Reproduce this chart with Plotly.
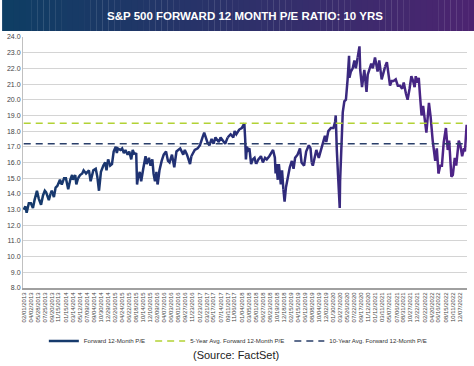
import plotly.graph_objects as go

dates = [
 "2013-02-01","2013-02-15","2013-02-25","2013-03-01","2013-03-15","2013-04-01","2013-04-18","2013-05-01","2013-05-21","2013-06-05",
 "2013-06-24","2013-07-10","2013-07-25","2013-08-05","2013-08-27","2013-09-10","2013-09-20","2013-10-08","2013-10-22","2013-11-05",
 "2013-11-27","2013-12-12","2013-12-31","2014-01-15","2014-02-03","2014-02-20","2014-03-07","2014-03-14","2014-04-02","2014-04-11",
 "2014-04-25","2014-05-12","2014-05-30","2014-06-10","2014-06-30","2014-07-24","2014-08-07","2014-08-29","2014-09-18","2014-10-01",
 "2014-10-15","2014-10-31","2014-11-20","2014-12-05","2014-12-16","2014-12-29","2015-01-15","2015-01-30","2015-02-13","2015-03-02",
 "2015-03-11","2015-03-20","2015-04-10","2015-04-24","2015-05-08","2015-05-21","2015-06-08","2015-06-22","2015-07-08","2015-07-20",
 "2015-08-05","2015-08-18","2015-08-25","2015-09-01","2015-09-16","2015-09-28","2015-10-15","2015-11-03","2015-11-13","2015-12-01",
 "2015-12-14","2015-12-29","2016-01-08","2016-01-20","2016-02-01","2016-02-11","2016-02-26","2016-03-15","2016-04-01","2016-04-20",
 "2016-05-06","2016-05-19","2016-06-08","2016-06-27","2016-07-15","2016-08-15","2016-09-09","2016-09-22","2016-10-10","2016-11-04",
 "2016-11-15","2016-12-13","2017-01-06","2017-01-25","2017-02-15","2017-03-01","2017-03-27","2017-04-13","2017-05-01","2017-05-17",
 "2017-06-02","2017-06-29","2017-07-14","2017-08-10","2017-08-21","2017-09-11","2017-10-05","2017-10-27","2017-11-07","2017-11-21",
 "2017-12-15","2018-01-05","2018-01-26","2018-02-02","2018-02-08","2018-02-16","2018-02-27","2018-03-09","2018-03-23","2018-04-06",
 "2018-04-20","2018-05-03","2018-05-22","2018-06-12","2018-06-28","2018-07-16","2018-07-30","2018-08-20","2018-09-20","2018-10-05",
 "2018-10-11","2018-10-17","2018-10-29","2018-11-07","2018-11-23","2018-12-03","2018-12-14","2018-12-24","2019-01-04","2019-01-18",
 "2019-02-05","2019-02-22","2019-03-08","2019-03-21","2019-04-10","2019-04-30","2019-05-13","2019-06-03","2019-06-20","2019-07-12",
 "2019-07-26","2019-08-05","2019-08-14","2019-08-23","2019-09-12","2019-10-02","2019-10-16","2019-11-01","2019-11-22","2019-12-03",
 "2019-12-20","2020-01-10","2020-01-31","2020-02-14","2020-02-19","2020-02-28","2020-03-09","2020-03-16","2020-03-23","2020-03-26",
 "2020-04-08","2020-04-17","2020-04-30","2020-05-13","2020-05-27","2020-06-08","2020-06-11","2020-06-23","2020-07-08","2020-07-22",
 "2020-08-03","2020-08-18","2020-09-02","2020-09-08","2020-09-23","2020-10-12","2020-10-30","2020-11-09","2020-11-24","2020-12-08",
 "2020-12-21","2021-01-08","2021-01-29","2021-02-12","2021-03-04","2021-03-18","2021-04-01","2021-04-16","2021-05-12","2021-05-26",
 "2021-06-10","2021-06-28","2021-07-15","2021-08-02","2021-08-20","2021-09-02","2021-09-20","2021-10-04","2021-10-20","2021-11-04",
 "2021-11-18","2021-12-01","2021-12-10","2021-12-22","2022-01-04","2022-01-14","2022-01-27","2022-02-09","2022-02-24","2022-03-08",
 "2022-03-29","2022-04-12","2022-04-29","2022-05-12","2022-05-20","2022-06-02","2022-06-16","2022-06-30","2022-07-14","2022-07-29",
 "2022-08-16","2022-08-31","2022-09-12","2022-09-30","2022-10-12","2022-10-28","2022-11-09","2022-11-30","2022-12-13","2022-12-28",
 "2023-01-12","2023-01-20","2023-02-03"]

pe = [
 13.0,13.2,12.8,13.0,13.4,13.4,13.1,13.6,14.2,13.7,
 13.3,13.9,14.2,14.1,13.6,14.0,14.2,13.8,14.4,14.5,
 14.9,14.6,15.0,15.0,14.3,14.9,15.2,14.9,15.2,14.6,
 15.0,15.2,15.3,15.5,15.3,15.5,14.8,15.5,15.6,15.1,
 14.2,15.4,15.8,16.0,15.5,16.2,15.8,15.9,16.7,17.0,
 16.6,16.9,16.8,16.9,16.6,16.8,16.5,16.7,16.2,16.8,
 16.5,16.6,14.6,15.0,15.4,14.8,15.6,16.4,15.9,16.3,
 15.8,16.2,15.3,14.8,15.4,14.6,15.5,16.1,16.5,16.7,
 16.1,16.0,16.5,15.7,16.7,16.9,16.5,16.8,16.5,15.9,
 16.4,16.8,16.9,17.1,17.6,17.9,17.3,17.1,17.5,17.2,
 17.6,17.3,17.6,17.3,17.2,17.6,17.8,17.6,18.0,17.8,
 18.1,18.2,18.5,17.5,16.2,17.0,16.8,16.9,15.9,16.2,
 16.3,15.9,16.2,16.4,16.0,16.3,16.2,16.4,16.8,16.3,
 15.3,15.9,14.9,15.9,14.6,15.5,14.3,13.5,14.4,15.0,
 15.7,16.1,15.6,16.3,16.5,16.9,16.0,15.8,16.7,17.1,
 16.9,16.0,15.8,16.1,16.8,16.3,16.7,17.1,17.7,17.3,
 18.0,18.2,18.2,18.6,19.0,16.8,15.2,14.1,13.1,14.8,
 17.2,19.2,19.9,20.0,21.3,22.8,21.4,21.8,22.0,22.5,
 22.0,22.7,23.4,21.9,20.8,21.9,20.5,21.6,22.0,22.3,
 22.0,22.7,21.8,22.5,21.3,21.7,22.1,22.4,20.9,21.2,
 21.2,21.3,20.9,20.9,20.7,21.1,20.4,20.0,20.7,21.5,
 21.2,20.8,21.5,21.1,21.4,20.3,19.0,19.6,18.4,17.9,
 19.8,18.9,17.4,16.4,16.1,16.9,15.3,15.8,15.8,17.3,
 18.2,16.8,17.4,15.1,15.2,16.3,15.8,17.4,17.1,16.4,
 16.9,16.7,18.4]

avg5 = 18.5
avg10 = 17.2

tick_dates = [
 "02/01/2013","04/02/2013","05/28/2013","07/25/2013","09/20/2013","11/15/2013",
 "01/15/2014","03/14/2014","05/12/2014","07/09/2014","09/04/2014","10/30/2014","12/29/2014",
 "02/26/2015","04/24/2015","06/22/2015","08/18/2015","10/14/2015","12/10/2015",
 "02/09/2016","04/07/2016","06/03/2016","08/01/2016","09/27/2016","11/23/2016",
 "01/23/2017","03/21/2017","05/17/2017","07/14/2017","09/11/2017","11/06/2017",
 "01/04/2018","03/05/2018","05/01/2018","06/27/2018","08/23/2018","10/19/2018","12/18/2018",
 "02/15/2019","04/15/2019","06/12/2019","08/08/2019","10/04/2019","12/02/2019",
 "01/30/2020","03/27/2020","05/26/2020","07/22/2020","09/17/2020","11/12/2020",
 "01/12/2021","03/11/2021","05/07/2021","07/06/2021","08/31/2021","10/27/2021","12/22/2021",
 "02/22/2022","04/20/2022","06/16/2022","08/15/2022","10/11/2022","12/07/2022"]

tick_vals = [f"{t[6:10]}-{t[0:2]}-{t[3:5]}" for t in tick_dates]

def lerp(c1, c2, t):
    return tuple(round(a + (b - a) * t) for a, b in zip(c1, c2))

fig = go.Figure()

# gradient line: navy -> purple
c_start = (22, 58, 108)
c_mid = (40, 45, 120)
c_end = (78, 36, 135)
nseg = 16
n = len(pe)
for s in range(nseg):
    i0 = s * (n - 1) // nseg
    i1 = (s + 1) * (n - 1) // nseg
    t = s / (nseg - 1)
    col = lerp(c_start, c_mid, t * 2) if t < 0.5 else lerp(c_mid, c_end, (t - 0.5) * 2)
    fig.add_trace(go.Scatter(
        x=dates[i0:i1 + 1], y=pe[i0:i1 + 1], mode="lines",
        line=dict(color="rgb(%d,%d,%d)" % col, width=2.5),
        name="Forward 12-Month P/E", legendgroup="fwd",
        showlegend=(s == 0), hoverinfo="skip"))

fig.add_trace(go.Scatter(
    x=[dates[0], dates[-1]], y=[avg5, avg5], mode="lines",
    line=dict(color="#b2d235", width=1.6, dash="7px,5px"),
    name="5-Year Avg. Forward 12-Month P/E"))
fig.add_trace(go.Scatter(
    x=[dates[0], dates[-1]], y=[avg10, avg10], mode="lines",
    line=dict(color="#2a3f6a", width=1.6, dash="7px,5px"),
    name="10-Year Avg. Forward 12-Month P/E"))

# title bar gradient
nstrip = 80
tl = (14, 62, 100)
tr = (76, 36, 112)
for k in range(nstrip):
    col = lerp(tl, tr, k / (nstrip - 1))
    fig.add_shape(type="rect", xref="paper", yref="paper",
                  x0=-21/446 + k * (474/446) / nstrip,
                  x1=-21/446 + (k + 1.05) * (474/446) / nstrip,
                  y0=1 + 6/251, y1=1 + 37/251,
                  fillcolor="rgb(%d,%d,%d)" % col, line=dict(width=0), layer="below")

fig.add_annotation(text="<b>S&P 500 FORWARD 12 MONTH P/E RATIO: 10 YRS</b>",
                   xref="paper", yref="paper", x=(244-21)/446, y=1 + 21/251,
                   showarrow=False, xanchor="center", yanchor="middle",
                   font=dict(family="Liberation Sans Narrow, Arial Narrow, Liberation Sans", size=11.5, color="white"))

fig.add_annotation(text="(Source: FactSet)", xref="paper", yref="paper",
                   x=(235-21)/446, y=-(355-288)/251, showarrow=False,
                   xanchor="center", yanchor="middle",
                   font=dict(family="Liberation Sans, Arial", size=11, color="#222222"))

fig.update_layout(
    width=474, height=366,
    margin=dict(l=21, r=7, t=37, b=78),
    paper_bgcolor="white", plot_bgcolor="white",
    font=dict(family="Liberation Sans, Arial", color="#444444"),
    showlegend=True,
    legend=dict(orientation="h", x=0.485, y=-(341-288)/251, xanchor="center", yanchor="middle",
                font=dict(size=6.1, color="#333333"), itemwidth=30, tracegroupgap=0,
                bgcolor="rgba(0,0,0,0)"),
)

fig.update_xaxes(type="date", range=["2013-01-26", "2023-02-06"],
                 tickmode="array", tickvals=tick_vals, ticktext=tick_dates,
                 tickangle=-90, tickfont=dict(size=6, color="#444444"),
                 showgrid=False, showline=True, linecolor="#a0a0a0", linewidth=2,
                 ticks="", zeroline=False)
fig.update_yaxes(range=[8, 24], dtick=1, tickformat=".1f",
                 tickfont=dict(size=7, color="#444444"),
                 showgrid=True, gridcolor="#d4d4d4", gridwidth=1,
                 showline=True, linecolor="#c0c0c0", linewidth=1,
                 ticks="", zeroline=False)

fig.write_html("out.html", config={"displayModeBar": False},
               post_script="document.body.style.margin='0px';document.body.style.overflow='hidden';")
